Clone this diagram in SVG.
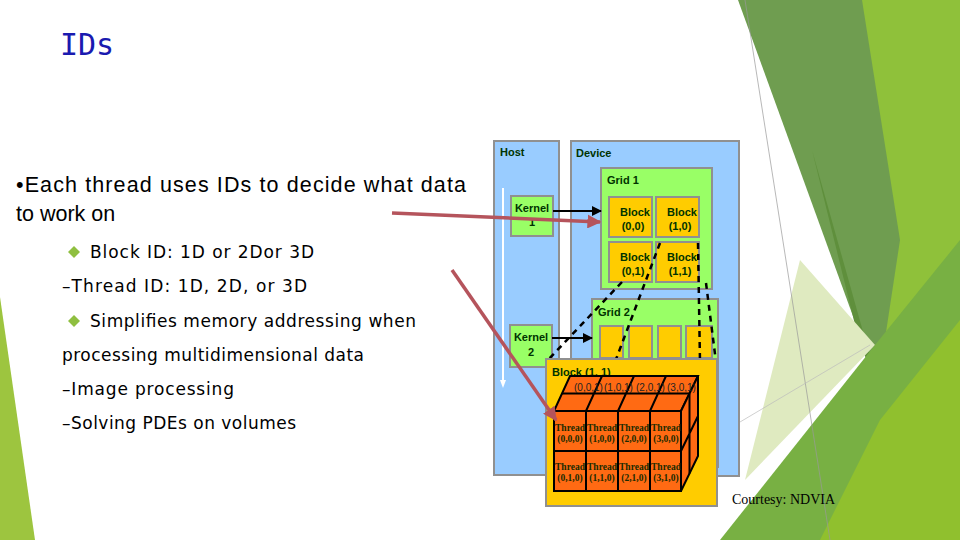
<svg xmlns="http://www.w3.org/2000/svg" width="960" height="540" viewBox="0 0 960 540">
<style>
.lbl{font-family:"Liberation Sans",Arial,sans-serif;font-weight:bold;font-size:11px;fill:#003300}
.body{font-family:"DejaVu Sans",sans-serif;font-size:17px;fill:#000}
.box{stroke:#909090;stroke-width:2}
.blue{fill:#99ccff}.grn{fill:#99ff66}.org{fill:#ffcc00}
.cube{fill:#ff6a13;stroke:#000;stroke-width:2}
.th{font-family:"Liberation Serif",serif;font-weight:bold;font-size:9.5px;fill:#1a2a00;text-anchor:middle}
.dash{stroke:#000;stroke-width:2.5;stroke-dasharray:6 5;fill:none}
</style>
<defs>
<marker id="ah" viewBox="0 0 10 10" refX="9" refY="5" markerWidth="5" markerHeight="5" orient="auto"><path d="M0,0L10,5L0,10z" fill="#000"/></marker>
<marker id="rh" viewBox="0 0 10 10" refX="9" refY="5" markerWidth="4" markerHeight="4" orient="auto"><path d="M0,0L10,5L0,10z" fill="#b5545c"/></marker>
</defs>
<rect width="960" height="540" fill="#fff"/>
<g id="decor">
<polygon points="0,297 0,540 35,540" fill="#9dc53f"/>
<polygon points="860,0 960,0 960,540 820,540 878,385" fill="#8fc13a"/>
<polygon points="738,0 862,0 900,240 878,385" fill="#6f9d50"/>
<polygon points="812,150 878,385 860,345" fill="#5f8f3c"/>
<polygon points="745,480 800,260 875,345" fill="#dfeac0"/>
<polygon points="720,540 875,345 960,240 960,540" fill="#78b043"/>
<polygon points="820,540 880,420 960,320 960,540" fill="#90c02e"/>
<line x1="745" y1="0" x2="830" y2="540" stroke="#999" stroke-width="0.7"/>
<line x1="740" y1="422" x2="870" y2="345" stroke="#bbb" stroke-width="0.7"/>
</g>
<text x="60" y="55" font-family="DejaVu Sans Mono,monospace" font-size="30" fill="#1a1ab0">IDs</text>
<g id="text">
<text x="16" y="192" font-family="Liberation Sans,Arial,sans-serif" font-size="21.5" textLength="450">•Each thread uses IDs to decide what data</text>
<text x="16" y="221" font-family="Liberation Sans,Arial,sans-serif" font-size="21.5">to work on</text>
<polygon points="68,252 74,246 80,252 74,258" fill="#8fbf40"/>
<text class="body" x="90" y="258" textLength="224">Block ID: 1D or 2Dor 3D</text>
<text class="body" x="62" y="292" textLength="245">–Thread ID: 1D, 2D, or 3D</text>
<polygon points="68,321 74,315 80,321 74,327" fill="#8fbf40"/>
<text class="body" x="90" y="327" textLength="326">Simplifies memory addressing when</text>
<text class="body" x="62" y="361" textLength="302">processing multidimensional data</text>
<text class="body" x="62" y="395" textLength="172">–Image processing</text>
<text class="body" x="62" y="429" textLength="234">–Solving PDEs on volumes</text>
</g>
<g id="host"><rect class="box blue" x="494" y="141" width="65" height="334"/><text class="lbl" x="500" y="156">Host</text>
<line x1="503" y1="188" x2="503" y2="385" stroke="#fff" stroke-width="2"/><polygon points="500,380 506,380 503,388" fill="#fff"/></g>
<g id="device"><rect class="box blue" x="571" y="141" width="168" height="335"/><text class="lbl" x="576" y="157">Device</text></g>
<g id="grid1"><rect class="box grn" x="601" y="168" width="111" height="121"/><text class="lbl" x="607" y="184">Grid 1</text>
<rect class="box org" x="609" y="197" width="43" height="40"/><text class="lbl" x="635" y="216" text-anchor="middle">Block</text><text class="lbl" x="633" y="230" text-anchor="middle">(0,0)</text>
<rect class="box org" x="656" y="197" width="43" height="40"/><text class="lbl" x="682" y="216" text-anchor="middle">Block</text><text class="lbl" x="680" y="230" text-anchor="middle">(1,0)</text>
<rect class="box org" x="609" y="242" width="43" height="40"/><text class="lbl" x="635" y="261" text-anchor="middle">Block</text><text class="lbl" x="633" y="275" text-anchor="middle">(0,1)</text>
<rect class="box org" x="656" y="242" width="43" height="40"/><text class="lbl" x="682" y="261" text-anchor="middle">Block</text><text class="lbl" x="680" y="275" text-anchor="middle">(1,1)</text></g>
<g id="kernel1"><rect class="box grn" x="511" y="196" width="42" height="40"/><text class="lbl" x="532" y="212" text-anchor="middle">Kernel</text><text class="lbl" x="532" y="226" text-anchor="middle">1</text></g>
<g id="grid2"><rect class="box grn" x="592" y="299" width="126" height="168"/><text class="lbl" x="598" y="316">Grid 2</text>
<rect class="box org" x="600" y="326" width="23" height="32"/><rect class="box org" x="629" y="326" width="23" height="32"/><rect class="box org" x="658" y="326" width="23" height="32"/><rect class="box org" x="686" y="326" width="26" height="32"/></g>
<g id="kernel2"><rect class="box grn" x="510" y="325" width="42" height="42"/><text class="lbl" x="531" y="341" text-anchor="middle">Kernel</text><text class="lbl" x="531" y="356" text-anchor="middle">2</text></g>
<g id="connectors">
<line x1="553" y1="211" x2="601" y2="211" stroke="#000" stroke-width="2" marker-end="url(#ah)"/>
<line x1="552" y1="338" x2="592" y2="338" stroke="#000" stroke-width="2" marker-end="url(#ah)"/>
<line class="dash" x1="622" y1="282" x2="546" y2="362"/>
<line class="dash" x1="660" y1="243" x2="615" y2="362"/>
<line class="dash" x1="698" y1="243" x2="700" y2="362"/>
<line class="dash" x1="706" y1="283" x2="716" y2="362"/>
</g>
<g id="block11">
<rect class="box org" x="546" y="359" width="171" height="147"/>
<text class="lbl" x="552" y="376" font-size="11.5">Block (1, 1)</text>
<polygon class="cube" points="554,411 570,376 698,376 681,411"/>
<polygon class="cube" points="681,411 698,376 698,456 681,491"/>
<rect class="cube" x="554" y="411" width="127" height="80"/>
<g stroke="#000" stroke-width="2" fill="none">
<path d="M586,411V491M618,411V491M650,411V491M554,451H681"/>
<path d="M586,411L602,376M618,411L634,376M650,411L666,376M562,393.5H689.5"/>
<path d="M681,451L698,416M689.5,393.5V473.5"/>
</g>
<g font-family="Liberation Sans,Arial,sans-serif" font-size="10" fill="#222">
<text x="574" y="391">(0,0,1)</text><text x="604" y="391">(1,0,1)</text><text x="636" y="391">(2,0,1)</text><text x="667" y="391">(3,0,1)</text>
</g>
<text class="th" x="570" y="431">Thread</text><text class="th" x="570" y="442">(0,0,0)</text>
<text class="th" x="602" y="431">Thread</text><text class="th" x="602" y="442">(1,0,0)</text>
<text class="th" x="634" y="431">Thread</text><text class="th" x="634" y="442">(2,0,0)</text>
<text class="th" x="666" y="431">Thread</text><text class="th" x="666" y="442">(3,0,0)</text>
<text class="th" x="570" y="470">Thread</text><text class="th" x="570" y="481">(0,1,0)</text>
<text class="th" x="602" y="470">Thread</text><text class="th" x="602" y="481">(1,1,0)</text>
<text class="th" x="634" y="470">Thread</text><text class="th" x="634" y="481">(2,1,0)</text>
<text class="th" x="666" y="470">Thread</text><text class="th" x="666" y="481">(3,1,0)</text>
</g>
<g id="red">
<line x1="392" y1="213" x2="600" y2="222" stroke="#b5545c" stroke-width="3.5" marker-end="url(#rh)"/>
<line x1="452" y1="270" x2="556" y2="420" stroke="#b5545c" stroke-width="3.5" marker-end="url(#rh)"/>
</g>
<text x="732" y="504" font-family="Liberation Serif,serif" font-size="14">Courtesy: NDVIA</text>
</svg>
